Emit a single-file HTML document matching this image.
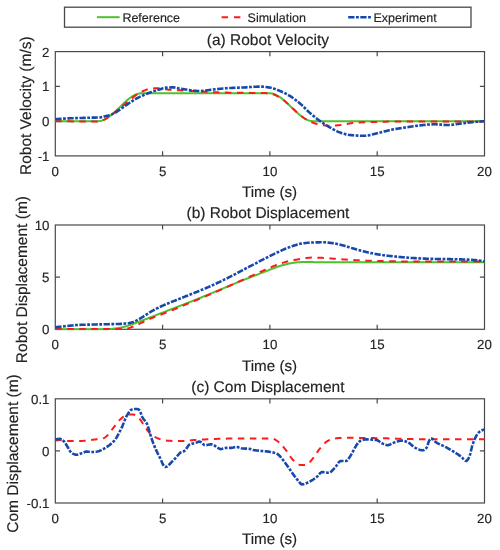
<!DOCTYPE html><html><head><meta charset="utf-8"><style>html,body{margin:0;padding:0;background:#fff;}svg{display:block;}text{font-family:"Liberation Sans",Arial,sans-serif;fill:#232323;stroke:#232323;stroke-width:0.15px;text-rendering:geometricPrecision;}</style></head><body>
<svg width="500" height="550" viewBox="0 0 500 550">
<rect width="500" height="550" fill="#fff"/>
<defs>
<clipPath id="c0"><rect x="53.8" y="50.1" width="432.2" height="107.3"/></clipPath>
<clipPath id="c1"><rect x="53.8" y="223.5" width="432.2" height="107.3"/></clipPath>
<clipPath id="c2"><rect x="53.8" y="397.3" width="432.2" height="107.2"/></clipPath>
</defs>
<rect x="55.3" y="51.6" width="429.2" height="104.3" fill="none" stroke="#474949" stroke-width="1.20"/>
<path d="M162.6,155.9V151.3M162.6,51.6V56.2M269.9,155.9V151.3M269.9,51.6V56.2M377.2,155.9V151.3M377.2,51.6V56.2M55.3,86.4H59.9M484.5,86.4H479.9M55.3,121.1H59.9M484.5,121.1H479.9" stroke="#474949" stroke-width="1.20" fill="none"/>
<g clip-path="url(#c0)" fill="none" stroke-linejoin="round">
<path d="M55.30,121.13 L56.30,121.13 L57.30,121.13 L58.30,121.13 L59.30,121.13 L60.30,121.13 L61.30,121.13 L62.30,121.13 L63.30,121.13 L64.30,121.13 L65.30,121.13 L66.30,121.13 L67.30,121.13 L68.30,121.13 L69.30,121.13 L70.30,121.13 L71.30,121.13 L72.30,121.13 L73.30,121.13 L74.30,121.13 L75.30,121.13 L76.30,121.13 L77.30,121.13 L78.30,121.13 L79.30,121.13 L80.30,121.13 L81.30,121.13 L82.30,121.13 L83.30,121.13 L84.30,121.13 L85.30,121.13 L86.30,121.13 L87.30,121.13 L88.30,121.13 L89.30,121.13 L90.30,121.13 L91.30,121.13 L92.30,121.13 L93.30,121.13 L94.30,121.13 L95.30,121.13 L96.30,121.13 L97.30,121.13 L98.30,121.13 L99.30,121.08 L100.30,120.94 L101.30,120.72 L102.30,120.43 L103.30,120.06 L104.30,119.62 L105.30,119.11 L106.30,118.55 L107.30,117.93 L108.30,117.25 L109.30,116.53 L110.30,115.76 L111.30,114.96 L112.30,114.12 L113.30,113.25 L114.30,112.35 L115.30,111.43 L116.30,110.48 L117.30,109.53 L118.30,108.57 L119.30,107.60 L120.30,106.62 L121.30,105.65 L122.30,104.69 L123.30,103.74 L124.30,102.81 L125.30,101.89 L126.30,101.00 L127.30,100.13 L128.30,99.30 L129.30,98.50 L130.30,97.75 L131.30,97.04 L132.30,96.37 L133.30,95.76 L134.30,95.21 L135.30,94.72 L136.30,94.30 L137.30,93.95 L138.30,93.67 L139.30,93.47 L140.30,93.35 L141.30,93.32 L142.30,93.32 L143.30,93.32 L144.30,93.32 L145.30,93.32 L146.30,93.32 L147.30,93.32 L148.30,93.32 L149.30,93.32 L150.30,93.32 L151.30,93.32 L152.30,93.32 L153.30,93.32 L154.30,93.32 L155.30,93.32 L156.30,93.32 L157.30,93.32 L158.30,93.32 L159.30,93.32 L160.30,93.32 L161.30,93.32 L162.30,93.32 L163.30,93.32 L164.30,93.32 L165.30,93.32 L166.30,93.32 L167.30,93.32 L168.30,93.32 L169.30,93.32 L170.30,93.32 L171.30,93.32 L172.30,93.32 L173.30,93.32 L174.30,93.32 L175.30,93.32 L176.30,93.32 L177.30,93.32 L178.30,93.32 L179.30,93.32 L180.30,93.32 L181.30,93.32 L182.30,93.32 L183.30,93.32 L184.30,93.32 L185.30,93.32 L186.30,93.32 L187.30,93.32 L188.30,93.32 L189.30,93.32 L190.30,93.32 L191.30,93.32 L192.30,93.32 L193.30,93.32 L194.30,93.32 L195.30,93.32 L196.30,93.32 L197.30,93.32 L198.30,93.32 L199.30,93.32 L200.30,93.32 L201.30,93.32 L202.30,93.32 L203.30,93.32 L204.30,93.32 L205.30,93.32 L206.30,93.32 L207.30,93.32 L208.30,93.32 L209.30,93.32 L210.30,93.32 L211.30,93.32 L212.30,93.32 L213.30,93.32 L214.30,93.32 L215.30,93.32 L216.30,93.32 L217.30,93.32 L218.30,93.32 L219.30,93.32 L220.30,93.32 L221.30,93.32 L222.30,93.32 L223.30,93.32 L224.30,93.32 L225.30,93.32 L226.30,93.32 L227.30,93.32 L228.30,93.32 L229.30,93.32 L230.30,93.32 L231.30,93.32 L232.30,93.32 L233.30,93.32 L234.30,93.32 L235.30,93.32 L236.30,93.32 L237.30,93.32 L238.30,93.32 L239.30,93.32 L240.30,93.32 L241.30,93.32 L242.30,93.32 L243.30,93.32 L244.30,93.32 L245.30,93.32 L246.30,93.32 L247.30,93.32 L248.30,93.32 L249.30,93.32 L250.30,93.32 L251.30,93.32 L252.30,93.32 L253.30,93.32 L254.30,93.32 L255.30,93.32 L256.30,93.32 L257.30,93.32 L258.30,93.32 L259.30,93.32 L260.30,93.32 L261.30,93.32 L262.30,93.32 L263.30,93.32 L264.30,93.32 L265.30,93.32 L266.30,93.32 L267.30,93.32 L268.30,93.32 L269.30,93.32 L270.30,93.33 L271.30,93.40 L272.30,93.57 L273.30,93.82 L274.30,94.14 L275.30,94.53 L276.30,94.99 L277.30,95.52 L278.30,96.10 L279.30,96.74 L280.30,97.43 L281.30,98.16 L282.30,98.94 L283.30,99.76 L284.30,100.61 L285.30,101.49 L286.30,102.40 L287.30,103.33 L288.30,104.27 L289.30,105.23 L290.30,106.20 L291.30,107.17 L292.30,108.14 L293.30,109.11 L294.30,110.07 L295.30,111.01 L296.30,111.94 L297.30,112.85 L298.30,113.74 L299.30,114.59 L300.30,115.41 L301.30,116.20 L302.30,116.94 L303.30,117.64 L304.30,118.28 L305.30,118.87 L306.30,119.40 L307.30,119.87 L308.30,120.27 L309.30,120.60 L310.30,120.86 L311.30,121.03 L312.30,121.12 L313.30,121.13 L314.30,121.13 L315.30,121.13 L316.30,121.13 L317.30,121.13 L318.30,121.13 L319.30,121.13 L320.30,121.13 L321.30,121.13 L322.30,121.13 L323.30,121.13 L324.30,121.13 L325.30,121.13 L326.30,121.13 L327.30,121.13 L328.30,121.13 L329.30,121.13 L330.30,121.13 L331.30,121.13 L332.30,121.13 L333.30,121.13 L334.30,121.13 L335.30,121.13 L336.30,121.13 L337.30,121.13 L338.30,121.13 L339.30,121.13 L340.30,121.13 L341.30,121.13 L342.30,121.13 L343.30,121.13 L344.30,121.13 L345.30,121.13 L346.30,121.13 L347.30,121.13 L348.30,121.13 L349.30,121.13 L350.30,121.13 L351.30,121.13 L352.30,121.13 L353.30,121.13 L354.30,121.13 L355.30,121.13 L356.30,121.13 L357.30,121.13 L358.30,121.13 L359.30,121.13 L360.30,121.13 L361.30,121.13 L362.30,121.13 L363.30,121.13 L364.30,121.13 L365.30,121.13 L366.30,121.13 L367.30,121.13 L368.30,121.13 L369.30,121.13 L370.30,121.13 L371.30,121.13 L372.30,121.13 L373.30,121.13 L374.30,121.13 L375.30,121.13 L376.30,121.13 L377.30,121.13 L378.30,121.13 L379.30,121.13 L380.30,121.13 L381.30,121.13 L382.30,121.13 L383.30,121.13 L384.30,121.13 L385.30,121.13 L386.30,121.13 L387.30,121.13 L388.30,121.13 L389.30,121.13 L390.30,121.13 L391.30,121.13 L392.30,121.13 L393.30,121.13 L394.30,121.13 L395.30,121.13 L396.30,121.13 L397.30,121.13 L398.30,121.13 L399.30,121.13 L400.30,121.13 L401.30,121.13 L402.30,121.13 L403.30,121.13 L404.30,121.13 L405.30,121.13 L406.30,121.13 L407.30,121.13 L408.30,121.13 L409.30,121.13 L410.30,121.13 L411.30,121.13 L412.30,121.13 L413.30,121.13 L414.30,121.13 L415.30,121.13 L416.30,121.13 L417.30,121.13 L418.30,121.13 L419.30,121.13 L420.30,121.13 L421.30,121.13 L422.30,121.13 L423.30,121.13 L424.30,121.13 L425.30,121.13 L426.30,121.13 L427.30,121.13 L428.30,121.13 L429.30,121.13 L430.30,121.13 L431.30,121.13 L432.30,121.13 L433.30,121.13 L434.30,121.13 L435.30,121.13 L436.30,121.13 L437.30,121.13 L438.30,121.13 L439.30,121.13 L440.30,121.13 L441.30,121.13 L442.30,121.13 L443.30,121.13 L444.30,121.13 L445.30,121.13 L446.30,121.13 L447.30,121.13 L448.30,121.13 L449.30,121.13 L450.30,121.13 L451.30,121.13 L452.30,121.13 L453.30,121.13 L454.30,121.13 L455.30,121.13 L456.30,121.13 L457.30,121.13 L458.30,121.13 L459.30,121.13 L460.30,121.13 L461.30,121.13 L462.30,121.13 L463.30,121.13 L464.30,121.13 L465.30,121.13 L466.30,121.13 L467.30,121.13 L468.30,121.13 L469.30,121.13 L470.30,121.13 L471.30,121.13 L472.30,121.13 L473.30,121.13 L474.30,121.13 L475.30,121.13 L476.30,121.13 L477.30,121.13 L478.30,121.13 L479.30,121.13 L480.30,121.13 L481.30,121.13 L482.30,121.13 L483.30,121.13 L484.30,121.13 L484.50,121.13" stroke="#4fc02f" stroke-width="2"/>
<path d="M55.30,121.30 L56.30,121.31 L57.30,121.31 L58.30,121.32 L59.30,121.33 L60.30,121.33 L61.30,121.34 L62.30,121.34 L63.30,121.35 L64.30,121.35 L65.30,121.36 L66.30,121.36 L67.30,121.36 L68.30,121.37 L69.30,121.37 L70.30,121.37 L71.30,121.38 L72.30,121.38 L73.30,121.38 L74.30,121.38 L75.30,121.38 L76.30,121.39 L77.30,121.39 L78.30,121.39 L79.30,121.39 L80.30,121.39 L81.30,121.39 L82.30,121.40 L83.30,121.40 L84.30,121.40 L85.30,121.40 L86.30,121.40 L87.30,121.40 L88.30,121.40 L89.30,121.40 L90.30,121.40 L91.30,121.40 L92.30,121.40 L93.30,121.40 L94.30,121.40 L95.30,121.40 L96.30,121.40 L97.30,121.40 L98.30,121.39 L99.30,121.27 L100.30,121.03 L101.30,120.71 L102.30,120.35 L103.30,119.99 L104.30,119.56 L105.30,119.05 L106.30,118.47 L107.30,117.84 L108.30,117.17 L109.30,116.48 L110.30,115.78 L111.30,115.09 L112.30,114.37 L113.30,113.60 L114.30,112.80 L115.30,111.98 L116.30,111.14 L117.30,110.31 L118.30,109.47 L119.30,108.66 L120.30,107.84 L121.30,107.01 L122.30,106.18 L123.30,105.35 L124.30,104.52 L125.30,103.69 L126.30,102.87 L127.30,102.06 L128.30,101.23 L129.30,100.39 L130.30,99.55 L131.30,98.73 L132.30,97.92 L133.30,97.14 L134.30,96.39 L135.30,95.69 L136.30,95.01 L137.30,94.33 L138.30,93.67 L139.30,93.04 L140.30,92.44 L141.30,91.90 L142.30,91.41 L143.30,90.98 L144.30,90.56 L145.30,90.16 L146.30,89.78 L147.30,89.42 L148.30,89.12 L149.30,88.86 L150.30,88.68 L151.30,88.57 L152.30,88.49 L153.30,88.42 L154.30,88.35 L155.30,88.30 L156.30,88.25 L157.30,88.22 L158.30,88.20 L159.30,88.20 L160.30,88.26 L161.30,88.38 L162.30,88.55 L163.30,88.74 L164.30,88.96 L165.30,89.17 L166.30,89.37 L167.30,89.54 L168.30,89.67 L169.30,89.76 L170.30,89.83 L171.30,89.90 L172.30,89.97 L173.30,90.03 L174.30,90.08 L175.30,90.13 L176.30,90.18 L177.30,90.23 L178.30,90.27 L179.30,90.32 L180.30,90.36 L181.30,90.41 L182.30,90.46 L183.30,90.51 L184.30,90.56 L185.30,90.62 L186.30,90.68 L187.30,90.74 L188.30,90.80 L189.30,90.86 L190.30,90.92 L191.30,90.98 L192.30,91.05 L193.30,91.11 L194.30,91.17 L195.30,91.23 L196.30,91.29 L197.30,91.35 L198.30,91.41 L199.30,91.46 L200.30,91.52 L201.30,91.57 L202.30,91.62 L203.30,91.68 L204.30,91.73 L205.30,91.78 L206.30,91.84 L207.30,91.89 L208.30,91.94 L209.30,91.99 L210.30,92.04 L211.30,92.09 L212.30,92.14 L213.30,92.19 L214.30,92.23 L215.30,92.27 L216.30,92.32 L217.30,92.35 L218.30,92.39 L219.30,92.42 L220.30,92.45 L221.30,92.48 L222.30,92.51 L223.30,92.53 L224.30,92.55 L225.30,92.57 L226.30,92.59 L227.30,92.61 L228.30,92.63 L229.30,92.65 L230.30,92.67 L231.30,92.68 L232.30,92.70 L233.30,92.71 L234.30,92.73 L235.30,92.74 L236.30,92.75 L237.30,92.77 L238.30,92.78 L239.30,92.79 L240.30,92.80 L241.30,92.81 L242.30,92.82 L243.30,92.83 L244.30,92.84 L245.30,92.85 L246.30,92.85 L247.30,92.86 L248.30,92.87 L249.30,92.87 L250.30,92.88 L251.30,92.89 L252.30,92.89 L253.30,92.90 L254.30,92.91 L255.30,92.91 L256.30,92.92 L257.30,92.93 L258.30,92.95 L259.30,92.96 L260.30,92.97 L261.30,92.99 L262.30,93.01 L263.30,93.03 L264.30,93.07 L265.30,93.12 L266.30,93.18 L267.30,93.25 L268.30,93.33 L269.30,93.43 L270.30,93.54 L271.30,93.73 L272.30,94.02 L273.30,94.36 L274.30,94.73 L275.30,95.12 L276.30,95.55 L277.30,96.05 L278.30,96.60 L279.30,97.18 L280.30,97.79 L281.30,98.45 L282.30,99.17 L283.30,99.94 L284.30,100.73 L285.30,101.55 L286.30,102.40 L287.30,103.30 L288.30,104.22 L289.30,105.15 L290.30,106.08 L291.30,107.01 L292.30,107.96 L293.30,108.91 L294.30,109.85 L295.30,110.78 L296.30,111.71 L297.30,112.63 L298.30,113.54 L299.30,114.42 L300.30,115.24 L301.30,116.04 L302.30,116.81 L303.30,117.55 L304.30,118.24 L305.30,118.89 L306.30,119.51 L307.30,120.10 L308.30,120.66 L309.30,121.17 L310.30,121.63 L311.30,122.06 L312.30,122.46 L313.30,122.83 L314.30,123.18 L315.30,123.49 L316.30,123.80 L317.30,124.09 L318.30,124.35 L319.30,124.57 L320.30,124.75 L321.30,124.91 L322.30,125.07 L323.30,125.22 L324.30,125.36 L325.30,125.49 L326.30,125.60 L327.30,125.69 L328.30,125.75 L329.30,125.79 L330.30,125.80 L331.30,125.78 L332.30,125.74 L333.30,125.69 L334.30,125.62 L335.30,125.54 L336.30,125.45 L337.30,125.36 L338.30,125.26 L339.30,125.17 L340.30,125.07 L341.30,124.96 L342.30,124.82 L343.30,124.66 L344.30,124.49 L345.30,124.30 L346.30,124.11 L347.30,123.91 L348.30,123.72 L349.30,123.52 L350.30,123.34 L351.30,123.16 L352.30,123.00 L353.30,122.86 L354.30,122.74 L355.30,122.65 L356.30,122.58 L357.30,122.53 L358.30,122.48 L359.30,122.44 L360.30,122.41 L361.30,122.37 L362.30,122.34 L363.30,122.31 L364.30,122.28 L365.30,122.25 L366.30,122.22 L367.30,122.19 L368.30,122.16 L369.30,122.13 L370.30,122.09 L371.30,122.06 L372.30,122.03 L373.30,121.99 L374.30,121.96 L375.30,121.93 L376.30,121.89 L377.30,121.86 L378.30,121.83 L379.30,121.80 L380.30,121.77 L381.30,121.75 L382.30,121.72 L383.30,121.70 L384.30,121.67 L385.30,121.66 L386.30,121.64 L387.30,121.62 L388.30,121.61 L389.30,121.60 L390.30,121.60 L391.30,121.59 L392.30,121.59 L393.30,121.58 L394.30,121.58 L395.30,121.58 L396.30,121.57 L397.30,121.57 L398.30,121.56 L399.30,121.56 L400.30,121.55 L401.30,121.55 L402.30,121.55 L403.30,121.54 L404.30,121.54 L405.30,121.54 L406.30,121.53 L407.30,121.53 L408.30,121.52 L409.30,121.52 L410.30,121.52 L411.30,121.51 L412.30,121.51 L413.30,121.51 L414.30,121.50 L415.30,121.50 L416.30,121.50 L417.30,121.49 L418.30,121.49 L419.30,121.49 L420.30,121.49 L421.30,121.48 L422.30,121.48 L423.30,121.48 L424.30,121.47 L425.30,121.47 L426.30,121.47 L427.30,121.47 L428.30,121.46 L429.30,121.46 L430.30,121.46 L431.30,121.46 L432.30,121.45 L433.30,121.45 L434.30,121.45 L435.30,121.45 L436.30,121.45 L437.30,121.44 L438.30,121.44 L439.30,121.44 L440.30,121.44 L441.30,121.44 L442.30,121.43 L443.30,121.43 L444.30,121.43 L445.30,121.43 L446.30,121.43 L447.30,121.43 L448.30,121.43 L449.30,121.42 L450.30,121.42 L451.30,121.42 L452.30,121.42 L453.30,121.42 L454.30,121.42 L455.30,121.42 L456.30,121.41 L457.30,121.41 L458.30,121.41 L459.30,121.41 L460.30,121.41 L461.30,121.41 L462.30,121.41 L463.30,121.41 L464.30,121.41 L465.30,121.41 L466.30,121.41 L467.30,121.41 L468.30,121.40 L469.30,121.40 L470.30,121.40 L471.30,121.40 L472.30,121.40 L473.30,121.40 L474.30,121.40 L475.30,121.40 L476.30,121.40 L477.30,121.40 L478.30,121.40 L479.30,121.40 L480.30,121.40 L481.30,121.40 L482.30,121.40 L483.30,121.40 L484.30,121.40 L484.50,121.40" stroke="#ff1a1a" stroke-width="2" stroke-dasharray="6.5 5.5"/>
<path d="M55.30,119.20 L56.30,119.12 L57.30,119.05 L58.30,118.98 L59.30,118.91 L60.30,118.84 L61.30,118.77 L62.30,118.71 L63.30,118.64 L64.30,118.58 L65.30,118.53 L66.30,118.47 L67.30,118.42 L68.30,118.37 L69.30,118.33 L70.30,118.29 L71.30,118.25 L72.30,118.21 L73.30,118.18 L74.30,118.15 L75.30,118.12 L76.30,118.09 L77.30,118.06 L78.30,118.03 L79.30,118.01 L80.30,117.98 L81.30,117.96 L82.30,117.93 L83.30,117.90 L84.30,117.88 L85.30,117.85 L86.30,117.82 L87.30,117.79 L88.30,117.76 L89.30,117.74 L90.30,117.72 L91.30,117.70 L92.30,117.67 L93.30,117.65 L94.30,117.63 L95.30,117.60 L96.30,117.57 L97.30,117.53 L98.30,117.49 L99.30,117.44 L100.30,117.38 L101.30,117.25 L102.30,117.06 L103.30,116.82 L104.30,116.55 L105.30,116.28 L106.30,116.02 L107.30,115.76 L108.30,115.48 L109.30,115.17 L110.30,114.85 L111.30,114.49 L112.30,114.09 L113.30,113.66 L114.30,113.19 L115.30,112.68 L116.30,112.13 L117.30,111.49 L118.30,110.79 L119.30,110.05 L120.30,109.30 L121.30,108.59 L122.30,107.88 L123.30,107.18 L124.30,106.47 L125.30,105.77 L126.30,105.08 L127.30,104.40 L128.30,103.72 L129.30,103.04 L130.30,102.36 L131.30,101.69 L132.30,101.04 L133.30,100.41 L134.30,99.80 L135.30,99.23 L136.30,98.68 L137.30,98.15 L138.30,97.63 L139.30,97.13 L140.30,96.64 L141.30,96.17 L142.30,95.71 L143.30,95.27 L144.30,94.83 L145.30,94.41 L146.30,94.00 L147.30,93.59 L148.30,93.20 L149.30,92.82 L150.30,92.45 L151.30,92.09 L152.30,91.74 L153.30,91.39 L154.30,91.06 L155.30,90.73 L156.30,90.41 L157.30,90.10 L158.30,89.80 L159.30,89.51 L160.30,89.21 L161.30,88.90 L162.30,88.58 L163.30,88.29 L164.30,88.03 L165.30,87.81 L166.30,87.66 L167.30,87.58 L168.30,87.53 L169.30,87.48 L170.30,87.45 L171.30,87.42 L172.30,87.40 L173.30,87.40 L174.30,87.48 L175.30,87.63 L176.30,87.83 L177.30,88.05 L178.30,88.28 L179.30,88.48 L180.30,88.64 L181.30,88.79 L182.30,88.95 L183.30,89.11 L184.30,89.27 L185.30,89.43 L186.30,89.59 L187.30,89.75 L188.30,89.91 L189.30,90.06 L190.30,90.21 L191.30,90.34 L192.30,90.47 L193.30,90.59 L194.30,90.70 L195.30,90.79 L196.30,90.87 L197.30,90.93 L198.30,90.97 L199.30,90.99 L200.30,91.00 L201.30,90.97 L202.30,90.92 L203.30,90.83 L204.30,90.73 L205.30,90.61 L206.30,90.47 L207.30,90.33 L208.30,90.18 L209.30,90.03 L210.30,89.88 L211.30,89.73 L212.30,89.60 L213.30,89.47 L214.30,89.37 L215.30,89.27 L216.30,89.17 L217.30,89.07 L218.30,88.97 L219.30,88.87 L220.30,88.77 L221.30,88.68 L222.30,88.58 L223.30,88.49 L224.30,88.41 L225.30,88.32 L226.30,88.24 L227.30,88.17 L228.30,88.10 L229.30,88.04 L230.30,87.98 L231.30,87.93 L232.30,87.89 L233.30,87.84 L234.30,87.80 L235.30,87.76 L236.30,87.73 L237.30,87.69 L238.30,87.66 L239.30,87.62 L240.30,87.59 L241.30,87.55 L242.30,87.51 L243.30,87.47 L244.30,87.43 L245.30,87.39 L246.30,87.33 L247.30,87.27 L248.30,87.21 L249.30,87.14 L250.30,87.07 L251.30,87.00 L252.30,86.93 L253.30,86.86 L254.30,86.80 L255.30,86.74 L256.30,86.69 L257.30,86.65 L258.30,86.62 L259.30,86.60 L260.30,86.60 L261.30,86.62 L262.30,86.67 L263.30,86.74 L264.30,86.83 L265.30,86.94 L266.30,87.06 L267.30,87.20 L268.30,87.34 L269.30,87.49 L270.30,87.65 L271.30,87.85 L272.30,88.10 L273.30,88.40 L274.30,88.73 L275.30,89.10 L276.30,89.49 L277.30,89.89 L278.30,90.30 L279.30,90.71 L280.30,91.12 L281.30,91.54 L282.30,91.98 L283.30,92.44 L284.30,92.91 L285.30,93.41 L286.30,93.92 L287.30,94.46 L288.30,95.01 L289.30,95.59 L290.30,96.18 L291.30,96.81 L292.30,97.48 L293.30,98.19 L294.30,98.92 L295.30,99.68 L296.30,100.47 L297.30,101.27 L298.30,102.09 L299.30,102.91 L300.30,103.75 L301.30,104.64 L302.30,105.57 L303.30,106.53 L304.30,107.51 L305.30,108.51 L306.30,109.51 L307.30,110.49 L308.30,111.45 L309.30,112.38 L310.30,113.26 L311.30,114.12 L312.30,114.97 L313.30,115.80 L314.30,116.62 L315.30,117.43 L316.30,118.22 L317.30,119.00 L318.30,119.75 L319.30,120.49 L320.30,121.21 L321.30,121.92 L322.30,122.62 L323.30,123.31 L324.30,123.98 L325.30,124.64 L326.30,125.28 L327.30,125.90 L328.30,126.51 L329.30,127.10 L330.30,127.67 L331.30,128.24 L332.30,128.81 L333.30,129.37 L334.30,129.92 L335.30,130.45 L336.30,130.95 L337.30,131.42 L338.30,131.86 L339.30,132.25 L340.30,132.60 L341.30,132.93 L342.30,133.25 L343.30,133.56 L344.30,133.85 L345.30,134.13 L346.30,134.37 L347.30,134.59 L348.30,134.77 L349.30,134.92 L350.30,135.03 L351.30,135.12 L352.30,135.21 L353.30,135.30 L354.30,135.38 L355.30,135.45 L356.30,135.52 L357.30,135.59 L358.30,135.64 L359.30,135.69 L360.30,135.73 L361.30,135.76 L362.30,135.78 L363.30,135.80 L364.30,135.80 L365.30,135.76 L366.30,135.67 L367.30,135.54 L368.30,135.37 L369.30,135.17 L370.30,134.95 L371.30,134.71 L372.30,134.45 L373.30,134.19 L374.30,133.92 L375.30,133.66 L376.30,133.40 L377.30,133.16 L378.30,132.93 L379.30,132.70 L380.30,132.46 L381.30,132.21 L382.30,131.96 L383.30,131.70 L384.30,131.43 L385.30,131.17 L386.30,130.91 L387.30,130.66 L388.30,130.41 L389.30,130.17 L390.30,129.95 L391.30,129.74 L392.30,129.54 L393.30,129.36 L394.30,129.18 L395.30,129.01 L396.30,128.85 L397.30,128.69 L398.30,128.53 L399.30,128.38 L400.30,128.23 L401.30,128.09 L402.30,127.94 L403.30,127.80 L404.30,127.65 L405.30,127.50 L406.30,127.35 L407.30,127.20 L408.30,127.05 L409.30,126.89 L410.30,126.73 L411.30,126.58 L412.30,126.42 L413.30,126.27 L414.30,126.12 L415.30,125.98 L416.30,125.84 L417.30,125.71 L418.30,125.59 L419.30,125.47 L420.30,125.37 L421.30,125.26 L422.30,125.16 L423.30,125.05 L424.30,124.94 L425.30,124.84 L426.30,124.74 L427.30,124.65 L428.30,124.56 L429.30,124.48 L430.30,124.42 L431.30,124.36 L432.30,124.33 L433.30,124.30 L434.30,124.30 L435.30,124.32 L436.30,124.35 L437.30,124.40 L438.30,124.46 L439.30,124.53 L440.30,124.60 L441.30,124.67 L442.30,124.75 L443.30,124.82 L444.30,124.88 L445.30,124.93 L446.30,124.97 L447.30,124.99 L448.30,125.00 L449.30,124.97 L450.30,124.92 L451.30,124.84 L452.30,124.75 L453.30,124.63 L454.30,124.50 L455.30,124.36 L456.30,124.21 L457.30,124.06 L458.30,123.91 L459.30,123.76 L460.30,123.62 L461.30,123.48 L462.30,123.37 L463.30,123.25 L464.30,123.13 L465.30,123.01 L466.30,122.88 L467.30,122.76 L468.30,122.64 L469.30,122.52 L470.30,122.40 L471.30,122.29 L472.30,122.18 L473.30,122.07 L474.30,121.97 L475.30,121.87 L476.30,121.78 L477.30,121.69 L478.30,121.60 L479.30,121.51 L480.30,121.43 L481.30,121.34 L482.30,121.26 L483.30,121.19 L484.30,121.11 L484.50,121.10" stroke="#1748ac" stroke-width="2.6" stroke-dasharray="6.3 1.5 2.8 1.5"/>
</g>
<text x="55.3" y="175.8" font-size="13.3" text-anchor="middle">0</text>
<text x="162.6" y="175.8" font-size="13.3" text-anchor="middle">5</text>
<text x="269.9" y="175.8" font-size="13.3" text-anchor="middle">10</text>
<text x="377.2" y="175.8" font-size="13.3" text-anchor="middle">15</text>
<text x="484.5" y="175.8" font-size="13.3" text-anchor="middle">20</text>
<text x="49.5" y="56.6" font-size="13.3" text-anchor="end">2</text>
<text x="49.5" y="91.4" font-size="13.3" text-anchor="end">1</text>
<text x="49.5" y="126.1" font-size="13.3" text-anchor="end">0</text>
<text x="49.5" y="160.9" font-size="13.3" text-anchor="end">-1</text>
<text x="269.6" y="197.1" font-size="15.2" text-anchor="middle">Time (s)</text>
<text x="267.9" y="44.5" font-size="15.5" text-anchor="middle">(a) Robot Velocity</text>
<text transform="translate(30.5,105.7) rotate(-90)" font-size="15.5" text-anchor="middle">Robot Velocity (m/s)</text>
<rect x="55.3" y="225.0" width="429.2" height="104.3" fill="none" stroke="#474949" stroke-width="1.20"/>
<path d="M162.6,329.3V324.7M162.6,225.0V229.6M269.9,329.3V324.7M269.9,225.0V229.6M377.2,329.3V324.7M377.2,225.0V229.6M55.3,277.2H59.9M484.5,277.2H479.9" stroke="#474949" stroke-width="1.20" fill="none"/>
<g clip-path="url(#c1)" fill="none" stroke-linejoin="round">
<path d="M55.30,329.30 L56.30,329.30 L57.30,329.30 L58.30,329.30 L59.30,329.30 L60.30,329.30 L61.30,329.30 L62.30,329.30 L63.30,329.30 L64.30,329.30 L65.30,329.30 L66.30,329.30 L67.30,329.30 L68.30,329.30 L69.30,329.30 L70.30,329.30 L71.30,329.30 L72.30,329.30 L73.30,329.30 L74.30,329.30 L75.30,329.30 L76.30,329.30 L77.30,329.30 L78.30,329.30 L79.30,329.30 L80.30,329.30 L81.30,329.30 L82.30,329.30 L83.30,329.30 L84.30,329.30 L85.30,329.30 L86.30,329.30 L87.30,329.30 L88.30,329.30 L89.30,329.30 L90.30,329.30 L91.30,329.30 L92.30,329.30 L93.30,329.30 L94.30,329.30 L95.30,329.30 L96.30,329.30 L97.30,329.30 L98.30,329.30 L99.30,329.30 L100.30,329.30 L101.30,329.29 L102.30,329.29 L103.30,329.27 L104.30,329.26 L105.30,329.23 L106.30,329.20 L107.30,329.16 L108.30,329.11 L109.30,329.05 L110.30,328.98 L111.30,328.90 L112.30,328.81 L113.30,328.70 L114.30,328.59 L115.30,328.46 L116.30,328.32 L117.30,328.16 L118.30,327.99 L119.30,327.81 L120.30,327.61 L121.30,327.40 L122.30,327.18 L123.30,326.94 L124.30,326.69 L125.30,326.43 L126.30,326.16 L127.30,325.87 L128.30,325.57 L129.30,325.26 L130.30,324.94 L131.30,324.60 L132.30,324.26 L133.30,323.91 L134.30,323.55 L135.30,323.19 L136.30,322.82 L137.30,322.44 L138.30,322.06 L139.30,321.67 L140.30,321.28 L141.30,320.89 L142.30,320.50 L143.30,320.12 L144.30,319.73 L145.30,319.34 L146.30,318.95 L147.30,318.56 L148.30,318.17 L149.30,317.78 L150.30,317.39 L151.30,317.01 L152.30,316.62 L153.30,316.23 L154.30,315.84 L155.30,315.45 L156.30,315.06 L157.30,314.67 L158.30,314.28 L159.30,313.90 L160.30,313.51 L161.30,313.12 L162.30,312.73 L163.30,312.34 L164.30,311.95 L165.30,311.56 L166.30,311.17 L167.30,310.78 L168.30,310.40 L169.30,310.01 L170.30,309.62 L171.30,309.23 L172.30,308.84 L173.30,308.45 L174.30,308.06 L175.30,307.67 L176.30,307.29 L177.30,306.90 L178.30,306.51 L179.30,306.12 L180.30,305.73 L181.30,305.34 L182.30,304.95 L183.30,304.56 L184.30,304.17 L185.30,303.79 L186.30,303.40 L187.30,303.01 L188.30,302.62 L189.30,302.23 L190.30,301.84 L191.30,301.45 L192.30,301.06 L193.30,300.66 L194.30,300.27 L195.30,299.87 L196.30,299.47 L197.30,299.07 L198.30,298.67 L199.30,298.26 L200.30,297.86 L201.30,297.45 L202.30,297.05 L203.30,296.64 L204.30,296.23 L205.30,295.82 L206.30,295.40 L207.30,294.99 L208.30,294.58 L209.30,294.16 L210.30,293.75 L211.30,293.33 L212.30,292.91 L213.30,292.50 L214.30,292.08 L215.30,291.66 L216.30,291.24 L217.30,290.82 L218.30,290.41 L219.30,289.99 L220.30,289.57 L221.30,289.15 L222.30,288.73 L223.30,288.31 L224.30,287.89 L225.30,287.48 L226.30,287.06 L227.30,286.64 L228.30,286.22 L229.30,285.81 L230.30,285.39 L231.30,284.98 L232.30,284.56 L233.30,284.15 L234.30,283.74 L235.30,283.33 L236.30,282.92 L237.30,282.51 L238.30,282.10 L239.30,281.69 L240.30,281.28 L241.30,280.88 L242.30,280.48 L243.30,280.08 L244.30,279.68 L245.30,279.28 L246.30,278.88 L247.30,278.49 L248.30,278.09 L249.30,277.70 L250.30,277.31 L251.30,276.92 L252.30,276.54 L253.30,276.15 L254.30,275.76 L255.30,275.37 L256.30,274.98 L257.30,274.59 L258.30,274.20 L259.30,273.81 L260.30,273.42 L261.30,273.04 L262.30,272.65 L263.30,272.26 L264.30,271.87 L265.30,271.48 L266.30,271.09 L267.30,270.70 L268.30,270.31 L269.30,269.93 L270.30,269.54 L271.30,269.15 L272.30,268.76 L273.30,268.38 L274.30,268.00 L275.30,267.62 L276.30,267.26 L277.30,266.90 L278.30,266.55 L279.30,266.21 L280.30,265.89 L281.30,265.57 L282.30,265.27 L283.30,264.98 L284.30,264.70 L285.30,264.44 L286.30,264.19 L287.30,263.95 L288.30,263.73 L289.30,263.52 L290.30,263.33 L291.30,263.15 L292.30,262.98 L293.30,262.83 L294.30,262.70 L295.30,262.58 L296.30,262.47 L297.30,262.37 L298.30,262.29 L299.30,262.22 L300.30,262.16 L301.30,262.11 L302.30,262.08 L303.30,262.05 L304.30,262.03 L305.30,262.02 L306.30,262.02 L307.30,262.02 L308.30,262.03 L309.30,262.05 L310.30,262.06 L311.30,262.08 L312.30,262.10 L313.30,262.12 L314.30,262.14 L315.30,262.16 L316.30,262.18 L317.30,262.19 L318.30,262.20 L319.30,262.22 L320.30,262.23 L321.30,262.23 L322.30,262.24 L323.30,262.24 L324.30,262.25 L325.30,262.25 L326.30,262.25 L327.30,262.25 L328.30,262.25 L329.30,262.25 L330.30,262.25 L331.30,262.25 L332.30,262.25 L333.30,262.25 L334.30,262.25 L335.30,262.25 L336.30,262.25 L337.30,262.25 L338.30,262.25 L339.30,262.25 L340.30,262.25 L341.30,262.25 L342.30,262.25 L343.30,262.25 L344.30,262.25 L345.30,262.25 L346.30,262.25 L347.30,262.25 L348.30,262.25 L349.30,262.25 L350.30,262.25 L351.30,262.25 L352.30,262.25 L353.30,262.25 L354.30,262.25 L355.30,262.25 L356.30,262.25 L357.30,262.25 L358.30,262.25 L359.30,262.25 L360.30,262.25 L361.30,262.25 L362.30,262.25 L363.30,262.25 L364.30,262.25 L365.30,262.25 L366.30,262.25 L367.30,262.25 L368.30,262.25 L369.30,262.25 L370.30,262.25 L371.30,262.25 L372.30,262.25 L373.30,262.25 L374.30,262.25 L375.30,262.25 L376.30,262.25 L377.30,262.25 L378.30,262.25 L379.30,262.25 L380.30,262.25 L381.30,262.25 L382.30,262.25 L383.30,262.25 L384.30,262.25 L385.30,262.25 L386.30,262.25 L387.30,262.25 L388.30,262.25 L389.30,262.25 L390.30,262.25 L391.30,262.25 L392.30,262.25 L393.30,262.25 L394.30,262.25 L395.30,262.25 L396.30,262.25 L397.30,262.25 L398.30,262.25 L399.30,262.25 L400.30,262.25 L401.30,262.25 L402.30,262.25 L403.30,262.25 L404.30,262.25 L405.30,262.25 L406.30,262.25 L407.30,262.25 L408.30,262.25 L409.30,262.25 L410.30,262.25 L411.30,262.25 L412.30,262.25 L413.30,262.25 L414.30,262.25 L415.30,262.25 L416.30,262.25 L417.30,262.25 L418.30,262.25 L419.30,262.25 L420.30,262.25 L421.30,262.25 L422.30,262.25 L423.30,262.25 L424.30,262.25 L425.30,262.25 L426.30,262.25 L427.30,262.25 L428.30,262.25 L429.30,262.25 L430.30,262.25 L431.30,262.25 L432.30,262.25 L433.30,262.25 L434.30,262.25 L435.30,262.25 L436.30,262.25 L437.30,262.25 L438.30,262.25 L439.30,262.25 L440.30,262.25 L441.30,262.25 L442.30,262.25 L443.30,262.25 L444.30,262.25 L445.30,262.25 L446.30,262.25 L447.30,262.25 L448.30,262.25 L449.30,262.25 L450.30,262.25 L451.30,262.25 L452.30,262.25 L453.30,262.25 L454.30,262.25 L455.30,262.25 L456.30,262.25 L457.30,262.25 L458.30,262.25 L459.30,262.25 L460.30,262.25 L461.30,262.25 L462.30,262.25 L463.30,262.25 L464.30,262.25 L465.30,262.25 L466.30,262.25 L467.30,262.25 L468.30,262.25 L469.30,262.25 L470.30,262.25 L471.30,262.25 L472.30,262.25 L473.30,262.25 L474.30,262.25 L475.30,262.25 L476.30,262.25 L477.30,262.25 L478.30,262.25 L479.30,262.25 L480.30,262.25 L481.30,262.25 L482.30,262.25 L483.30,262.25 L484.30,262.25 L484.50,262.25" stroke="#4fc02f" stroke-width="2"/>
<path d="M55.30,328.90 L56.30,328.90 L57.30,328.90 L58.30,328.90 L59.30,328.90 L60.30,328.90 L61.30,328.90 L62.30,328.90 L63.30,328.90 L64.30,328.90 L65.30,328.90 L66.30,328.90 L67.30,328.90 L68.30,328.90 L69.30,328.90 L70.30,328.90 L71.30,328.90 L72.30,328.90 L73.30,328.90 L74.30,328.90 L75.30,328.90 L76.30,328.90 L77.30,328.90 L78.30,328.90 L79.30,328.90 L80.30,328.90 L81.30,328.90 L82.30,328.90 L83.30,328.90 L84.30,328.90 L85.30,328.90 L86.30,328.90 L87.30,328.90 L88.30,328.90 L89.30,328.90 L90.30,328.90 L91.30,328.90 L92.30,328.90 L93.30,328.90 L94.30,328.90 L95.30,328.90 L96.30,328.90 L97.30,328.90 L98.30,328.90 L99.30,328.90 L100.30,328.90 L101.30,328.90 L102.30,328.90 L103.30,328.90 L104.30,328.90 L105.30,328.90 L106.30,328.90 L107.30,328.90 L108.30,328.90 L109.30,328.90 L110.30,328.90 L111.30,328.90 L112.30,328.90 L113.30,328.90 L114.30,328.90 L115.30,328.90 L116.30,328.90 L117.30,328.90 L118.30,328.90 L119.30,328.90 L120.30,328.90 L121.30,328.88 L122.30,328.85 L123.30,328.80 L124.30,328.73 L125.30,328.65 L126.30,328.57 L127.30,328.47 L128.30,328.28 L129.30,328.01 L130.30,327.67 L131.30,327.29 L132.30,326.88 L133.30,326.47 L134.30,326.08 L135.30,325.68 L136.30,325.25 L137.30,324.80 L138.30,324.34 L139.30,323.87 L140.30,323.39 L141.30,322.92 L142.30,322.46 L143.30,321.99 L144.30,321.52 L145.30,321.04 L146.30,320.56 L147.30,320.08 L148.30,319.61 L149.30,319.15 L150.30,318.70 L151.30,318.27 L152.30,317.86 L153.30,317.46 L154.30,317.07 L155.30,316.69 L156.30,316.31 L157.30,315.94 L158.30,315.57 L159.30,315.20 L160.30,314.83 L161.30,314.45 L162.30,314.07 L163.30,313.68 L164.30,313.29 L165.30,312.90 L166.30,312.50 L167.30,312.11 L168.30,311.71 L169.30,311.31 L170.30,310.91 L171.30,310.51 L172.30,310.10 L173.30,309.70 L174.30,309.29 L175.30,308.88 L176.30,308.46 L177.30,308.04 L178.30,307.62 L179.30,307.19 L180.30,306.77 L181.30,306.34 L182.30,305.92 L183.30,305.49 L184.30,305.07 L185.30,304.66 L186.30,304.25 L187.30,303.83 L188.30,303.42 L189.30,303.01 L190.30,302.60 L191.30,302.19 L192.30,301.78 L193.30,301.36 L194.30,300.95 L195.30,300.54 L196.30,300.13 L197.30,299.72 L198.30,299.31 L199.30,298.89 L200.30,298.47 L201.30,298.05 L202.30,297.63 L203.30,297.20 L204.30,296.78 L205.30,296.35 L206.30,295.92 L207.30,295.50 L208.30,295.07 L209.30,294.65 L210.30,294.23 L211.30,293.80 L212.30,293.38 L213.30,292.95 L214.30,292.53 L215.30,292.10 L216.30,291.67 L217.30,291.24 L218.30,290.80 L219.30,290.37 L220.30,289.93 L221.30,289.49 L222.30,289.05 L223.30,288.61 L224.30,288.17 L225.30,287.72 L226.30,287.27 L227.30,286.82 L228.30,286.37 L229.30,285.92 L230.30,285.47 L231.30,285.02 L232.30,284.56 L233.30,284.12 L234.30,283.66 L235.30,283.21 L236.30,282.76 L237.30,282.32 L238.30,281.87 L239.30,281.41 L240.30,280.97 L241.30,280.52 L242.30,280.06 L243.30,279.62 L244.30,279.17 L245.30,278.72 L246.30,278.26 L247.30,277.81 L248.30,277.37 L249.30,276.91 L250.30,276.46 L251.30,276.01 L252.30,275.56 L253.30,275.11 L254.30,274.66 L255.30,274.21 L256.30,273.76 L257.30,273.31 L258.30,272.86 L259.30,272.41 L260.30,271.96 L261.30,271.51 L262.30,271.06 L263.30,270.61 L264.30,270.17 L265.30,269.72 L266.30,269.27 L267.30,268.83 L268.30,268.38 L269.30,267.95 L270.30,267.51 L271.30,267.09 L272.30,266.68 L273.30,266.26 L274.30,265.85 L275.30,265.45 L276.30,265.05 L277.30,264.66 L278.30,264.29 L279.30,263.93 L280.30,263.60 L281.30,263.28 L282.30,262.97 L283.30,262.66 L284.30,262.37 L285.30,262.08 L286.30,261.81 L287.30,261.55 L288.30,261.30 L289.30,261.06 L290.30,260.83 L291.30,260.62 L292.30,260.41 L293.30,260.21 L294.30,260.02 L295.30,259.83 L296.30,259.65 L297.30,259.48 L298.30,259.31 L299.30,259.15 L300.30,259.00 L301.30,258.86 L302.30,258.71 L303.30,258.55 L304.30,258.39 L305.30,258.23 L306.30,258.08 L307.30,257.94 L308.30,257.82 L309.30,257.72 L310.30,257.65 L311.30,257.61 L312.30,257.60 L313.30,257.61 L314.30,257.62 L315.30,257.64 L316.30,257.66 L317.30,257.69 L318.30,257.72 L319.30,257.76 L320.30,257.79 L321.30,257.83 L322.30,257.87 L323.30,257.91 L324.30,257.96 L325.30,258.02 L326.30,258.09 L327.30,258.16 L328.30,258.24 L329.30,258.32 L330.30,258.41 L331.30,258.49 L332.30,258.57 L333.30,258.65 L334.30,258.72 L335.30,258.79 L336.30,258.87 L337.30,258.94 L338.30,259.01 L339.30,259.09 L340.30,259.16 L341.30,259.24 L342.30,259.31 L343.30,259.39 L344.30,259.46 L345.30,259.54 L346.30,259.61 L347.30,259.68 L348.30,259.75 L349.30,259.81 L350.30,259.88 L351.30,259.94 L352.30,260.00 L353.30,260.06 L354.30,260.11 L355.30,260.17 L356.30,260.21 L357.30,260.26 L358.30,260.31 L359.30,260.35 L360.30,260.40 L361.30,260.44 L362.30,260.48 L363.30,260.52 L364.30,260.56 L365.30,260.60 L366.30,260.64 L367.30,260.67 L368.30,260.71 L369.30,260.75 L370.30,260.78 L371.30,260.81 L372.30,260.84 L373.30,260.87 L374.30,260.90 L375.30,260.93 L376.30,260.96 L377.30,260.98 L378.30,261.01 L379.30,261.03 L380.30,261.06 L381.30,261.08 L382.30,261.10 L383.30,261.13 L384.30,261.15 L385.30,261.17 L386.30,261.20 L387.30,261.22 L388.30,261.24 L389.30,261.26 L390.30,261.28 L391.30,261.30 L392.30,261.31 L393.30,261.33 L394.30,261.34 L395.30,261.36 L396.30,261.37 L397.30,261.38 L398.30,261.39 L399.30,261.40 L400.30,261.40 L401.30,261.41 L402.30,261.41 L403.30,261.42 L404.30,261.42 L405.30,261.43 L406.30,261.43 L407.30,261.43 L408.30,261.44 L409.30,261.44 L410.30,261.45 L411.30,261.45 L412.30,261.46 L413.30,261.46 L414.30,261.46 L415.30,261.47 L416.30,261.47 L417.30,261.48 L418.30,261.48 L419.30,261.48 L420.30,261.49 L421.30,261.49 L422.30,261.49 L423.30,261.50 L424.30,261.50 L425.30,261.50 L426.30,261.51 L427.30,261.51 L428.30,261.51 L429.30,261.52 L430.30,261.52 L431.30,261.52 L432.30,261.53 L433.30,261.53 L434.30,261.53 L435.30,261.53 L436.30,261.54 L437.30,261.54 L438.30,261.54 L439.30,261.54 L440.30,261.55 L441.30,261.55 L442.30,261.55 L443.30,261.55 L444.30,261.56 L445.30,261.56 L446.30,261.56 L447.30,261.56 L448.30,261.57 L449.30,261.57 L450.30,261.57 L451.30,261.57 L452.30,261.57 L453.30,261.57 L454.30,261.58 L455.30,261.58 L456.30,261.58 L457.30,261.58 L458.30,261.58 L459.30,261.58 L460.30,261.58 L461.30,261.59 L462.30,261.59 L463.30,261.59 L464.30,261.59 L465.30,261.59 L466.30,261.59 L467.30,261.59 L468.30,261.59 L469.30,261.59 L470.30,261.59 L471.30,261.60 L472.30,261.60 L473.30,261.60 L474.30,261.60 L475.30,261.60 L476.30,261.60 L477.30,261.60 L478.30,261.60 L479.30,261.60 L480.30,261.60 L481.30,261.60 L482.30,261.60 L483.30,261.60 L484.30,261.60 L484.50,261.60" stroke="#ff1a1a" stroke-width="2" stroke-dasharray="6.5 5.5"/>
<path d="M55.30,327.20 L56.30,327.09 L57.30,326.99 L58.30,326.88 L59.30,326.78 L60.30,326.67 L61.30,326.57 L62.30,326.47 L63.30,326.37 L64.30,326.27 L65.30,326.17 L66.30,326.07 L67.30,325.97 L68.30,325.87 L69.30,325.76 L70.30,325.66 L71.30,325.55 L72.30,325.44 L73.30,325.34 L74.30,325.24 L75.30,325.15 L76.30,325.06 L77.30,324.99 L78.30,324.93 L79.30,324.89 L80.30,324.85 L81.30,324.81 L82.30,324.78 L83.30,324.74 L84.30,324.71 L85.30,324.68 L86.30,324.66 L87.30,324.63 L88.30,324.61 L89.30,324.58 L90.30,324.56 L91.30,324.54 L92.30,324.52 L93.30,324.50 L94.30,324.48 L95.30,324.46 L96.30,324.44 L97.30,324.42 L98.30,324.40 L99.30,324.38 L100.30,324.36 L101.30,324.34 L102.30,324.32 L103.30,324.29 L104.30,324.27 L105.30,324.25 L106.30,324.23 L107.30,324.21 L108.30,324.19 L109.30,324.17 L110.30,324.15 L111.30,324.13 L112.30,324.11 L113.30,324.09 L114.30,324.07 L115.30,324.05 L116.30,324.02 L117.30,323.99 L118.30,323.96 L119.30,323.93 L120.30,323.89 L121.30,323.84 L122.30,323.79 L123.30,323.73 L124.30,323.65 L125.30,323.57 L126.30,323.47 L127.30,323.37 L128.30,323.22 L129.30,323.04 L130.30,322.82 L131.30,322.58 L132.30,322.30 L133.30,322.01 L134.30,321.63 L135.30,321.18 L136.30,320.68 L137.30,320.14 L138.30,319.58 L139.30,319.04 L140.30,318.46 L141.30,317.86 L142.30,317.23 L143.30,316.59 L144.30,315.95 L145.30,315.31 L146.30,314.65 L147.30,313.98 L148.30,313.31 L149.30,312.65 L150.30,312.02 L151.30,311.43 L152.30,310.86 L153.30,310.30 L154.30,309.76 L155.30,309.23 L156.30,308.72 L157.30,308.21 L158.30,307.72 L159.30,307.23 L160.30,306.76 L161.30,306.29 L162.30,305.84 L163.30,305.40 L164.30,304.96 L165.30,304.54 L166.30,304.11 L167.30,303.69 L168.30,303.28 L169.30,302.86 L170.30,302.46 L171.30,302.06 L172.30,301.66 L173.30,301.27 L174.30,300.87 L175.30,300.48 L176.30,300.08 L177.30,299.68 L178.30,299.28 L179.30,298.88 L180.30,298.48 L181.30,298.08 L182.30,297.68 L183.30,297.28 L184.30,296.88 L185.30,296.48 L186.30,296.08 L187.30,295.68 L188.30,295.28 L189.30,294.88 L190.30,294.48 L191.30,294.08 L192.30,293.68 L193.30,293.28 L194.30,292.89 L195.30,292.49 L196.30,292.09 L197.30,291.69 L198.30,291.29 L199.30,290.89 L200.30,290.48 L201.30,290.06 L202.30,289.64 L203.30,289.22 L204.30,288.80 L205.30,288.37 L206.30,287.94 L207.30,287.51 L208.30,287.07 L209.30,286.63 L210.30,286.19 L211.30,285.74 L212.30,285.29 L213.30,284.84 L214.30,284.38 L215.30,283.92 L216.30,283.46 L217.30,283.00 L218.30,282.53 L219.30,282.06 L220.30,281.58 L221.30,281.10 L222.30,280.62 L223.30,280.14 L224.30,279.65 L225.30,279.16 L226.30,278.67 L227.30,278.17 L228.30,277.67 L229.30,277.17 L230.30,276.67 L231.30,276.16 L232.30,275.65 L233.30,275.13 L234.30,274.61 L235.30,274.09 L236.30,273.56 L237.30,273.03 L238.30,272.50 L239.30,271.97 L240.30,271.44 L241.30,270.90 L242.30,270.37 L243.30,269.82 L244.30,269.28 L245.30,268.74 L246.30,268.20 L247.30,267.67 L248.30,267.14 L249.30,266.62 L250.30,266.11 L251.30,265.60 L252.30,265.10 L253.30,264.59 L254.30,264.08 L255.30,263.56 L256.30,263.04 L257.30,262.51 L258.30,261.97 L259.30,261.43 L260.30,260.90 L261.30,260.37 L262.30,259.85 L263.30,259.33 L264.30,258.83 L265.30,258.33 L266.30,257.83 L267.30,257.33 L268.30,256.84 L269.30,256.35 L270.30,255.85 L271.30,255.36 L272.30,254.86 L273.30,254.37 L274.30,253.88 L275.30,253.39 L276.30,252.91 L277.30,252.43 L278.30,251.96 L279.30,251.49 L280.30,251.02 L281.30,250.56 L282.30,250.10 L283.30,249.65 L284.30,249.21 L285.30,248.79 L286.30,248.38 L287.30,247.98 L288.30,247.59 L289.30,247.21 L290.30,246.84 L291.30,246.49 L292.30,246.14 L293.30,245.82 L294.30,245.51 L295.30,245.20 L296.30,244.89 L297.30,244.59 L298.30,244.31 L299.30,244.05 L300.30,243.81 L301.30,243.61 L302.30,243.46 L303.30,243.31 L304.30,243.18 L305.30,243.05 L306.30,242.93 L307.30,242.82 L308.30,242.73 L309.30,242.65 L310.30,242.58 L311.30,242.53 L312.30,242.49 L313.30,242.46 L314.30,242.43 L315.30,242.41 L316.30,242.38 L317.30,242.36 L318.30,242.34 L319.30,242.33 L320.30,242.31 L321.30,242.31 L322.30,242.30 L323.30,242.30 L324.30,242.32 L325.30,242.37 L326.30,242.44 L327.30,242.53 L328.30,242.63 L329.30,242.75 L330.30,242.88 L331.30,243.02 L332.30,243.16 L333.30,243.30 L334.30,243.44 L335.30,243.61 L336.30,243.80 L337.30,244.01 L338.30,244.23 L339.30,244.48 L340.30,244.74 L341.30,245.00 L342.30,245.27 L343.30,245.54 L344.30,245.81 L345.30,246.08 L346.30,246.36 L347.30,246.65 L348.30,246.95 L349.30,247.25 L350.30,247.56 L351.30,247.88 L352.30,248.19 L353.30,248.50 L354.30,248.81 L355.30,249.10 L356.30,249.38 L357.30,249.66 L358.30,249.94 L359.30,250.22 L360.30,250.50 L361.30,250.77 L362.30,251.04 L363.30,251.30 L364.30,251.55 L365.30,251.80 L366.30,252.04 L367.30,252.27 L368.30,252.49 L369.30,252.71 L370.30,252.93 L371.30,253.14 L372.30,253.35 L373.30,253.55 L374.30,253.74 L375.30,253.93 L376.30,254.11 L377.30,254.28 L378.30,254.45 L379.30,254.61 L380.30,254.76 L381.30,254.91 L382.30,255.05 L383.30,255.19 L384.30,255.32 L385.30,255.45 L386.30,255.58 L387.30,255.70 L388.30,255.82 L389.30,255.93 L390.30,256.05 L391.30,256.16 L392.30,256.26 L393.30,256.37 L394.30,256.47 L395.30,256.57 L396.30,256.66 L397.30,256.76 L398.30,256.85 L399.30,256.94 L400.30,257.03 L401.30,257.12 L402.30,257.20 L403.30,257.29 L404.30,257.38 L405.30,257.47 L406.30,257.55 L407.30,257.63 L408.30,257.71 L409.30,257.79 L410.30,257.86 L411.30,257.93 L412.30,258.00 L413.30,258.06 L414.30,258.12 L415.30,258.17 L416.30,258.23 L417.30,258.28 L418.30,258.33 L419.30,258.38 L420.30,258.43 L421.30,258.48 L422.30,258.52 L423.30,258.57 L424.30,258.61 L425.30,258.65 L426.30,258.69 L427.30,258.73 L428.30,258.76 L429.30,258.80 L430.30,258.83 L431.30,258.86 L432.30,258.88 L433.30,258.91 L434.30,258.93 L435.30,258.95 L436.30,258.97 L437.30,258.98 L438.30,259.00 L439.30,259.01 L440.30,259.03 L441.30,259.04 L442.30,259.05 L443.30,259.06 L444.30,259.08 L445.30,259.09 L446.30,259.10 L447.30,259.12 L448.30,259.13 L449.30,259.15 L450.30,259.17 L451.30,259.19 L452.30,259.21 L453.30,259.23 L454.30,259.25 L455.30,259.27 L456.30,259.29 L457.30,259.32 L458.30,259.34 L459.30,259.37 L460.30,259.39 L461.30,259.42 L462.30,259.45 L463.30,259.48 L464.30,259.52 L465.30,259.55 L466.30,259.59 L467.30,259.63 L468.30,259.67 L469.30,259.72 L470.30,259.76 L471.30,259.82 L472.30,259.88 L473.30,259.95 L474.30,260.04 L475.30,260.14 L476.30,260.25 L477.30,260.37 L478.30,260.50 L479.30,260.63 L480.30,260.77 L481.30,260.91 L482.30,261.06 L483.30,261.22 L484.30,261.37 L484.50,261.40" stroke="#1748ac" stroke-width="2.6" stroke-dasharray="6.3 1.5 2.8 1.5"/>
</g>
<text x="55.3" y="349.2" font-size="13.3" text-anchor="middle">0</text>
<text x="162.6" y="349.2" font-size="13.3" text-anchor="middle">5</text>
<text x="269.9" y="349.2" font-size="13.3" text-anchor="middle">10</text>
<text x="377.2" y="349.2" font-size="13.3" text-anchor="middle">15</text>
<text x="484.5" y="349.2" font-size="13.3" text-anchor="middle">20</text>
<text x="49.5" y="230.0" font-size="13.3" text-anchor="end">10</text>
<text x="49.5" y="282.2" font-size="13.3" text-anchor="end">5</text>
<text x="49.5" y="334.3" font-size="13.3" text-anchor="end">0</text>
<text x="269.6" y="370.5" font-size="15.2" text-anchor="middle">Time (s)</text>
<text x="267.9" y="217.9" font-size="15.5" text-anchor="middle">(b) Robot Displacement</text>
<text transform="translate(26.6,279.6) rotate(-90)" font-size="15.5" text-anchor="middle">Robot Displacement (m)</text>
<rect x="55.3" y="398.8" width="429.2" height="104.2" fill="none" stroke="#474949" stroke-width="1.20"/>
<path d="M162.6,503.0V498.4M162.6,398.8V403.4M269.9,503.0V498.4M269.9,398.8V403.4M377.2,503.0V498.4M377.2,398.8V403.4M55.3,450.9H59.9M484.5,450.9H479.9" stroke="#474949" stroke-width="1.20" fill="none"/>
<g clip-path="url(#c2)" fill="none" stroke-linejoin="round">
<path d="M55.30,440.60 L56.30,440.39 L57.30,440.24 L58.30,440.15 L59.30,440.11 L60.30,440.11 L61.30,440.25 L62.30,440.50 L63.30,440.76 L64.30,440.95 L65.30,441.00 L66.30,441.00 L67.30,441.00 L68.30,441.00 L69.30,441.00 L70.30,441.00 L71.30,441.00 L72.30,441.00 L73.30,441.00 L74.30,441.00 L75.30,441.00 L76.30,441.00 L77.30,441.00 L78.30,441.00 L79.30,441.00 L80.30,441.00 L81.30,440.98 L82.30,440.93 L83.30,440.87 L84.30,440.78 L85.30,440.68 L86.30,440.57 L87.30,440.44 L88.30,440.31 L89.30,440.18 L90.30,440.05 L91.30,439.91 L92.30,439.79 L93.30,439.66 L94.30,439.55 L95.30,439.45 L96.30,439.35 L97.30,439.24 L98.30,439.12 L99.30,438.99 L100.30,438.84 L101.30,438.67 L102.30,438.46 L103.30,438.23 L104.30,437.85 L105.30,437.24 L106.30,436.45 L107.30,435.55 L108.30,434.59 L109.30,433.53 L110.30,432.22 L111.30,430.77 L112.30,429.29 L113.30,427.89 L114.30,426.61 L115.30,425.32 L116.30,424.02 L117.30,422.75 L118.30,421.53 L119.30,420.39 L120.30,419.35 L121.30,418.44 L122.30,417.63 L123.30,416.80 L124.30,416.00 L125.30,415.32 L126.30,414.83 L127.30,414.61 L128.30,414.60 L129.30,414.60 L130.30,414.60 L131.30,414.60 L132.30,414.60 L133.30,414.60 L134.30,414.77 L135.30,415.22 L136.30,415.89 L137.30,416.70 L138.30,417.58 L139.30,418.48 L140.30,419.65 L141.30,421.09 L142.30,422.69 L143.30,424.33 L144.30,425.90 L145.30,427.31 L146.30,428.70 L147.30,430.10 L148.30,431.45 L149.30,432.69 L150.30,433.75 L151.30,434.61 L152.30,435.36 L153.30,436.04 L154.30,436.65 L155.30,437.20 L156.30,437.67 L157.30,438.10 L158.30,438.51 L159.30,438.92 L160.30,439.30 L161.30,439.64 L162.30,439.95 L163.30,440.20 L164.30,440.38 L165.30,440.50 L166.30,440.58 L167.30,440.65 L168.30,440.71 L169.30,440.77 L170.30,440.83 L171.30,440.88 L172.30,440.93 L173.30,440.97 L174.30,441.00 L175.30,441.03 L176.30,441.06 L177.30,441.08 L178.30,441.09 L179.30,441.10 L180.30,441.10 L181.30,441.08 L182.30,441.05 L183.30,441.00 L184.30,440.93 L185.30,440.86 L186.30,440.77 L187.30,440.68 L188.30,440.58 L189.30,440.48 L190.30,440.37 L191.30,440.27 L192.30,440.17 L193.30,440.07 L194.30,439.99 L195.30,439.91 L196.30,439.84 L197.30,439.78 L198.30,439.73 L199.30,439.68 L200.30,439.63 L201.30,439.58 L202.30,439.53 L203.30,439.48 L204.30,439.43 L205.30,439.38 L206.30,439.33 L207.30,439.28 L208.30,439.24 L209.30,439.19 L210.30,439.14 L211.30,439.10 L212.30,439.06 L213.30,439.02 L214.30,438.98 L215.30,438.94 L216.30,438.90 L217.30,438.86 L218.30,438.83 L219.30,438.80 L220.30,438.77 L221.30,438.74 L222.30,438.72 L223.30,438.69 L224.30,438.67 L225.30,438.65 L226.30,438.64 L227.30,438.62 L228.30,438.61 L229.30,438.60 L230.30,438.60 L231.30,438.59 L232.30,438.59 L233.30,438.59 L234.30,438.58 L235.30,438.58 L236.30,438.57 L237.30,438.57 L238.30,438.56 L239.30,438.56 L240.30,438.56 L241.30,438.55 L242.30,438.55 L243.30,438.55 L244.30,438.54 L245.30,438.54 L246.30,438.54 L247.30,438.53 L248.30,438.53 L249.30,438.53 L250.30,438.53 L251.30,438.52 L252.30,438.52 L253.30,438.52 L254.30,438.52 L255.30,438.52 L256.30,438.51 L257.30,438.51 L258.30,438.51 L259.30,438.51 L260.30,438.51 L261.30,438.51 L262.30,438.51 L263.30,438.50 L264.30,438.50 L265.30,438.50 L266.30,438.50 L267.30,438.50 L268.30,438.50 L269.30,438.50 L270.30,438.50 L271.30,438.50 L272.30,438.55 L273.30,438.80 L274.30,439.20 L275.30,439.74 L276.30,440.36 L277.30,441.05 L278.30,441.75 L279.30,442.47 L280.30,443.35 L281.30,444.39 L282.30,445.54 L283.30,446.77 L284.30,448.04 L285.30,449.32 L286.30,450.58 L287.30,451.96 L288.30,453.45 L289.30,455.00 L290.30,456.51 L291.30,457.93 L292.30,459.18 L293.30,460.19 L294.30,461.11 L295.30,462.03 L296.30,462.91 L297.30,463.68 L298.30,464.30 L299.30,464.73 L300.30,464.90 L301.30,464.90 L302.30,464.90 L303.30,464.90 L304.30,464.90 L305.30,464.90 L306.30,464.84 L307.30,464.44 L308.30,463.70 L309.30,462.71 L310.30,461.56 L311.30,460.33 L312.30,459.11 L313.30,457.96 L314.30,456.67 L315.30,455.23 L316.30,453.70 L317.30,452.16 L318.30,450.65 L319.30,449.27 L320.30,448.05 L321.30,446.88 L322.30,445.72 L323.30,444.61 L324.30,443.57 L325.30,442.63 L326.30,441.84 L327.30,441.20 L328.30,440.67 L329.30,440.17 L330.30,439.72 L331.30,439.31 L332.30,438.97 L333.30,438.71 L334.30,438.53 L335.30,438.41 L336.30,438.30 L337.30,438.20 L338.30,438.11 L339.30,438.03 L340.30,437.96 L341.30,437.90 L342.30,437.85 L343.30,437.82 L344.30,437.80 L345.30,437.80 L346.30,437.80 L347.30,437.80 L348.30,437.81 L349.30,437.81 L350.30,437.81 L351.30,437.82 L352.30,437.83 L353.30,437.83 L354.30,437.84 L355.30,437.85 L356.30,437.86 L357.30,437.87 L358.30,437.88 L359.30,437.89 L360.30,437.90 L361.30,437.92 L362.30,437.93 L363.30,437.94 L364.30,437.96 L365.30,437.97 L366.30,437.99 L367.30,438.00 L368.30,438.02 L369.30,438.03 L370.30,438.05 L371.30,438.06 L372.30,438.08 L373.30,438.09 L374.30,438.11 L375.30,438.13 L376.30,438.14 L377.30,438.16 L378.30,438.17 L379.30,438.19 L380.30,438.20 L381.30,438.22 L382.30,438.24 L383.30,438.26 L384.30,438.29 L385.30,438.31 L386.30,438.34 L387.30,438.36 L388.30,438.39 L389.30,438.42 L390.30,438.45 L391.30,438.48 L392.30,438.52 L393.30,438.55 L394.30,438.58 L395.30,438.62 L396.30,438.65 L397.30,438.69 L398.30,438.72 L399.30,438.75 L400.30,438.79 L401.30,438.82 L402.30,438.85 L403.30,438.89 L404.30,438.92 L405.30,438.95 L406.30,438.98 L407.30,439.00 L408.30,439.03 L409.30,439.06 L410.30,439.08 L411.30,439.10 L412.30,439.12 L413.30,439.14 L414.30,439.16 L415.30,439.17 L416.30,439.18 L417.30,439.19 L418.30,439.20 L419.30,439.20 L420.30,439.20 L421.30,439.20 L422.30,439.20 L423.30,439.20 L424.30,439.20 L425.30,439.20 L426.30,439.20 L427.30,439.20 L428.30,439.20 L429.30,439.20 L430.30,439.20 L431.30,439.20 L432.30,439.20 L433.30,439.20 L434.30,439.20 L435.30,439.20 L436.30,439.20 L437.30,439.20 L438.30,439.20 L439.30,439.20 L440.30,439.20 L441.30,439.20 L442.30,439.20 L443.30,439.20 L444.30,439.20 L445.30,439.20 L446.30,439.20 L447.30,439.20 L448.30,439.20 L449.30,439.20 L450.30,439.20 L451.30,439.20 L452.30,439.20 L453.30,439.20 L454.30,439.20 L455.30,439.20 L456.30,439.20 L457.30,439.20 L458.30,439.20 L459.30,439.20 L460.30,439.20 L461.30,439.20 L462.30,439.20 L463.30,439.20 L464.30,439.20 L465.30,439.20 L466.30,439.20 L467.30,439.20 L468.30,439.20 L469.30,439.20 L470.30,439.20 L471.30,439.20 L472.30,439.20 L473.30,439.20 L474.30,439.20 L475.30,439.20 L476.30,439.20 L477.30,439.20 L478.30,439.20 L479.30,439.20 L480.30,439.20 L481.30,439.20 L482.30,439.20 L483.30,439.20 L484.30,439.20 L484.50,439.20" stroke="#ff1a1a" stroke-width="2" stroke-dasharray="6.5 5.5"/>
<path d="M55.30,439.50 L56.30,439.19 L57.30,439.01 L58.30,438.93 L59.30,438.90 L60.30,438.92 L61.30,439.27 L62.30,439.93 L63.30,440.77 L64.30,441.70 L65.30,443.06 L66.30,444.74 L67.30,446.47 L68.30,448.07 L69.30,449.83 L70.30,451.48 L71.30,452.68 L72.30,453.32 L73.30,453.86 L74.30,454.30 L75.30,454.62 L76.30,454.78 L77.30,454.76 L78.30,454.54 L79.30,454.18 L80.30,453.77 L81.30,453.37 L82.30,453.03 L83.30,452.62 L84.30,452.20 L85.30,451.85 L86.30,451.63 L87.30,451.61 L88.30,451.68 L89.30,451.79 L90.30,451.90 L91.30,451.98 L92.30,452.00 L93.30,451.97 L94.30,451.90 L95.30,451.81 L96.30,451.69 L97.30,451.55 L98.30,451.30 L99.30,450.93 L100.30,450.50 L101.30,450.07 L102.30,449.60 L103.30,449.07 L104.30,448.50 L105.30,447.90 L106.30,447.26 L107.30,446.60 L108.30,445.91 L109.30,445.18 L110.30,444.40 L111.30,443.57 L112.30,442.67 L113.30,441.70 L114.30,440.61 L115.30,439.37 L116.30,437.95 L117.30,436.24 L118.30,434.34 L119.30,432.43 L120.30,430.50 L121.30,428.49 L122.30,426.33 L123.30,423.87 L124.30,421.27 L125.30,418.81 L126.30,416.71 L127.30,414.84 L128.30,413.18 L129.30,411.81 L130.30,410.54 L131.30,409.68 L132.30,409.37 L133.30,409.16 L134.30,409.03 L135.30,409.00 L136.30,409.04 L137.30,409.13 L138.30,409.27 L139.30,409.99 L140.30,411.69 L141.30,414.58 L142.30,417.08 L143.30,418.69 L144.30,419.97 L145.30,421.21 L146.30,422.69 L147.30,424.69 L148.30,427.71 L149.30,431.19 L150.30,434.42 L151.30,437.52 L152.30,440.55 L153.30,443.37 L154.30,445.87 L155.30,448.20 L156.30,450.38 L157.30,452.46 L158.30,454.46 L159.30,456.41 L160.30,458.48 L161.30,460.79 L162.30,463.08 L163.30,465.07 L164.30,466.47 L165.30,467.00 L166.30,466.81 L167.30,466.28 L168.30,465.51 L169.30,464.55 L170.30,463.49 L171.30,462.41 L172.30,461.39 L173.30,460.42 L174.30,459.35 L175.30,458.26 L176.30,457.17 L177.30,455.99 L178.30,454.77 L179.30,453.64 L180.30,452.73 L181.30,452.15 L182.30,451.80 L183.30,451.49 L184.30,451.06 L185.30,450.20 L186.30,448.81 L187.30,447.21 L188.30,445.71 L189.30,444.60 L190.30,444.11 L191.30,443.82 L192.30,443.60 L193.30,443.41 L194.30,443.22 L195.30,442.97 L196.30,442.62 L197.30,442.21 L198.30,441.84 L199.30,441.62 L200.30,441.73 L201.30,442.39 L202.30,443.35 L203.30,444.33 L204.30,445.03 L205.30,445.19 L206.30,445.10 L207.30,444.93 L208.30,444.73 L209.30,444.53 L210.30,444.37 L211.30,444.30 L212.30,444.43 L213.30,444.83 L214.30,445.41 L215.30,446.07 L216.30,446.71 L217.30,447.31 L218.30,448.07 L219.30,448.76 L220.30,449.10 L221.30,449.01 L222.30,448.76 L223.30,448.43 L224.30,448.13 L225.30,447.93 L226.30,447.90 L227.30,447.90 L228.30,447.90 L229.30,447.90 L230.30,447.90 L231.30,447.89 L232.30,447.77 L233.30,447.56 L234.30,447.32 L235.30,447.11 L236.30,447.00 L237.30,447.07 L238.30,447.31 L239.30,447.65 L240.30,448.00 L241.30,448.29 L242.30,448.43 L243.30,448.50 L244.30,448.55 L245.30,448.59 L246.30,448.63 L247.30,448.68 L248.30,448.74 L249.30,448.84 L250.30,449.03 L251.30,449.32 L252.30,449.64 L253.30,449.94 L254.30,450.17 L255.30,450.31 L256.30,450.43 L257.30,450.54 L258.30,450.63 L259.30,450.73 L260.30,450.83 L261.30,450.93 L262.30,451.02 L263.30,451.10 L264.30,451.19 L265.30,451.28 L266.30,451.39 L267.30,451.51 L268.30,451.64 L269.30,451.79 L270.30,451.96 L271.30,452.14 L272.30,452.35 L273.30,452.59 L274.30,452.86 L275.30,453.17 L276.30,453.52 L277.30,453.94 L278.30,454.63 L279.30,455.57 L280.30,456.69 L281.30,457.89 L282.30,459.08 L283.30,460.28 L284.30,461.58 L285.30,462.95 L286.30,464.38 L287.30,465.82 L288.30,467.27 L289.30,468.68 L290.30,470.08 L291.30,471.51 L292.30,472.96 L293.30,474.40 L294.30,475.80 L295.30,477.15 L296.30,478.41 L297.30,479.60 L298.30,480.92 L299.30,482.23 L300.30,483.36 L301.30,484.14 L302.30,484.40 L303.30,484.30 L304.30,484.05 L305.30,483.69 L306.30,483.24 L307.30,482.75 L308.30,482.24 L309.30,481.75 L310.30,481.25 L311.30,480.71 L312.30,480.11 L313.30,479.48 L314.30,478.80 L315.30,478.09 L316.30,477.35 L317.30,476.46 L318.30,475.30 L319.30,474.07 L320.30,472.98 L321.30,472.27 L322.30,472.10 L323.30,472.15 L324.30,472.25 L325.30,472.37 L326.30,472.50 L327.30,472.61 L328.30,472.68 L329.30,472.68 L330.30,472.29 L331.30,471.53 L332.30,470.54 L333.30,469.45 L334.30,468.39 L335.30,467.30 L336.30,465.90 L337.30,464.38 L338.30,462.93 L339.30,461.77 L340.30,461.09 L341.30,461.00 L342.30,461.00 L343.30,461.00 L344.30,461.00 L345.30,461.00 L346.30,460.99 L347.30,460.41 L348.30,459.15 L349.30,457.63 L350.30,456.16 L351.30,454.46 L352.30,452.61 L353.30,450.78 L354.30,448.94 L355.30,447.05 L356.30,445.31 L357.30,443.92 L358.30,442.68 L359.30,441.60 L360.30,440.84 L361.30,440.43 L362.30,440.07 L363.30,439.78 L364.30,439.56 L365.30,439.43 L366.30,439.40 L367.30,439.42 L368.30,439.45 L369.30,439.49 L370.30,439.54 L371.30,439.59 L372.30,439.65 L373.30,439.71 L374.30,439.79 L375.30,439.90 L376.30,440.02 L377.30,440.23 L378.30,440.72 L379.30,441.41 L380.30,442.19 L381.30,442.91 L382.30,443.44 L383.30,443.89 L384.30,444.34 L385.30,444.74 L386.30,445.04 L387.30,445.19 L388.30,445.13 L389.30,444.82 L390.30,444.35 L391.30,443.81 L392.30,443.30 L393.30,442.89 L394.30,442.51 L395.30,442.13 L396.30,441.77 L397.30,441.45 L398.30,441.20 L399.30,440.98 L400.30,440.77 L401.30,440.63 L402.30,440.61 L403.30,440.72 L404.30,440.96 L405.30,441.30 L406.30,441.71 L407.30,442.17 L408.30,442.66 L409.30,443.16 L410.30,443.86 L411.30,444.74 L412.30,445.68 L413.30,446.58 L414.30,447.32 L415.30,447.84 L416.30,448.33 L417.30,448.80 L418.30,449.23 L419.30,449.62 L420.30,449.93 L421.30,450.16 L422.30,450.28 L423.30,450.25 L424.30,449.85 L425.30,449.14 L426.30,448.16 L427.30,446.53 L428.30,442.87 L429.30,440.28 L430.30,439.16 L431.30,438.54 L432.30,438.72 L433.30,439.58 L434.30,440.74 L435.30,441.77 L436.30,442.45 L437.30,443.03 L438.30,443.55 L439.30,444.04 L440.30,444.50 L441.30,444.95 L442.30,445.39 L443.30,445.85 L444.30,446.33 L445.30,446.85 L446.30,447.40 L447.30,447.95 L448.30,448.51 L449.30,449.09 L450.30,449.67 L451.30,450.26 L452.30,450.86 L453.30,451.47 L454.30,452.09 L455.30,452.71 L456.30,453.34 L457.30,453.98 L458.30,454.64 L459.30,455.32 L460.30,456.03 L461.30,456.78 L462.30,457.76 L463.30,458.92 L464.30,459.99 L465.30,460.72 L466.30,460.85 L467.30,460.12 L468.30,458.74 L469.30,457.01 L470.30,453.83 L471.30,449.46 L472.30,445.51 L473.30,442.60 L474.30,440.01 L475.30,437.78 L476.30,435.91 L477.30,434.24 L478.30,432.90 L479.30,431.98 L480.30,431.24 L481.30,430.64 L482.30,430.18 L483.30,429.85 L484.30,429.63 L484.50,429.60" stroke="#1748ac" stroke-width="2.6" stroke-dasharray="6.3 1.5 2.8 1.5"/>
</g>
<text x="55.3" y="522.9" font-size="13.3" text-anchor="middle">0</text>
<text x="162.6" y="522.9" font-size="13.3" text-anchor="middle">5</text>
<text x="269.9" y="522.9" font-size="13.3" text-anchor="middle">10</text>
<text x="377.2" y="522.9" font-size="13.3" text-anchor="middle">15</text>
<text x="484.5" y="522.9" font-size="13.3" text-anchor="middle">20</text>
<text x="49.5" y="403.8" font-size="13.3" text-anchor="end">0.1</text>
<text x="49.5" y="455.9" font-size="13.3" text-anchor="end">0</text>
<text x="49.5" y="508.0" font-size="13.3" text-anchor="end">-0.1</text>
<text x="269.6" y="544.2" font-size="15.2" text-anchor="middle">Time (s)</text>
<text x="267.9" y="391.7" font-size="15.5" text-anchor="middle">(c) Com Displacement</text>
<text transform="translate(18.4,453.5) rotate(-90)" font-size="15.5" text-anchor="middle">Com Displacement (m)</text>
<rect x="64.5" y="7.2" width="406.5" height="20" fill="#fff" stroke="#474949" stroke-width="1.3"/>
<path d="M97,17.2H119.6" stroke="#4fc02f" stroke-width="2"/>
<text x="122.4" y="21.5" font-size="12.5">Reference</text>
<path d="M221.6,17.2H241.5" stroke="#ff1a1a" stroke-width="2" stroke-dasharray="6.4 6"/>
<text x="247.6" y="21.5" font-size="12.5">Simulation</text>
<path d="M348.2,17.2H371" stroke="#1748ac" stroke-width="2.6" stroke-dasharray="6.3 1.5 2.8 1.5"/>
<text x="373.4" y="21.5" font-size="12.5">Experiment</text>
</svg></body></html>
